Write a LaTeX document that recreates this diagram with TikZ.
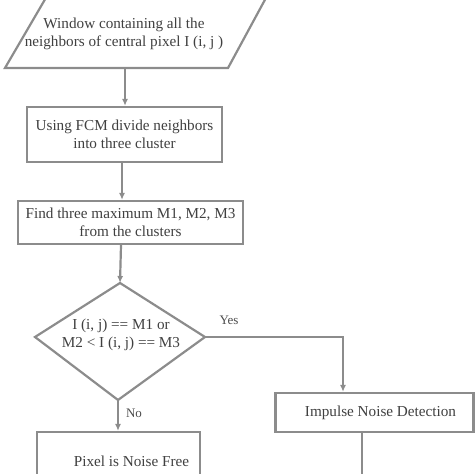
\documentclass[tikz,border=0pt]{standalone}
\usepackage{fontspec}
\setmainfont{Liberation Serif}
\usetikzlibrary{arrows.meta}
\begin{document}
\begin{tikzpicture}[x=0.5pt,y=-0.5pt,
  ln/.style={draw=black!45,line width=1.1pt},
  arr/.style={ln,-{Latex[length=3.5pt,width=3pt]}},
  txt/.style={text=black!75,font=\fontsize{7.6}{9}\selectfont,align=center,inner sep=0pt},
  boxn/.style={ln,fill=white,txt,inner sep=0pt},
  lbl/.style={text=black!70,font=\fontsize{6.5}{8}\selectfont,inner sep=0pt}]
\useasboundingbox (0,0) rectangle (474,474);
% parallelogram
\draw[ln] (47,-4) -- (5,68) -- (228,68) -- (267,-4);
\node[txt] (win) at (124,34) {Window containing all the\\neighbors of central pixel I (i, j )};
\coordinate (winb) at (125,68);
% boxes
\node[boxn,minimum width=97.5pt,minimum height=27.5pt] (fcm) at (124.5,134.5) {Using FCM divide neighbors\\into three cluster};
\node[boxn,minimum width=112.5pt,minimum height=21.5pt] (max) at (130.5,222.5) {Find three maximum M1, M2, M3\\from the clusters};
% diamond
\coordinate (dtop) at (120,283);
\coordinate (dright) at (205,337);
\coordinate (dbot) at (118,400);
\coordinate (dleft) at (35,337);
\draw[ln] (dtop) -- (dright) -- (dbot) -- (dleft) -- cycle;
\node[txt] (dec) at (121,335) {I (i, j) == M1 or\\M2 < I (i, j) == M3};
% right and left boxes
\node[boxn,minimum width=99pt,minimum height=19.5pt] (imp) at (374.5,412.5) {\hspace*{6pt}Impulse Noise Detection};
\node[boxn,minimum width=81.5pt,minimum height=29pt] (free) at (118.5,461) {\hspace*{13pt}Pixel is Noise Free};
\coordinate (yx) at (343,337);
\coordinate (impout) at (362,490);
% connectors
\draw[arr] (winb) -- (winb |- fcm.north);
\draw[arr] (fcm.south -| 122,0) -- (122,0 |- max.north);
\draw[arr] (max.south -| 121,0) -- (dtop);
\draw[arr] (dright) -- (yx) -- (yx |- imp.north);
\draw[arr] (dbot) -- (dbot |- free.north);
\draw[ln] (imp.south -| impout) -- (impout);
\node[lbl] (yes) at (229,320) {Yes};
\node[lbl] (no) at (134,413) {No};
\end{tikzpicture}
\end{document}
